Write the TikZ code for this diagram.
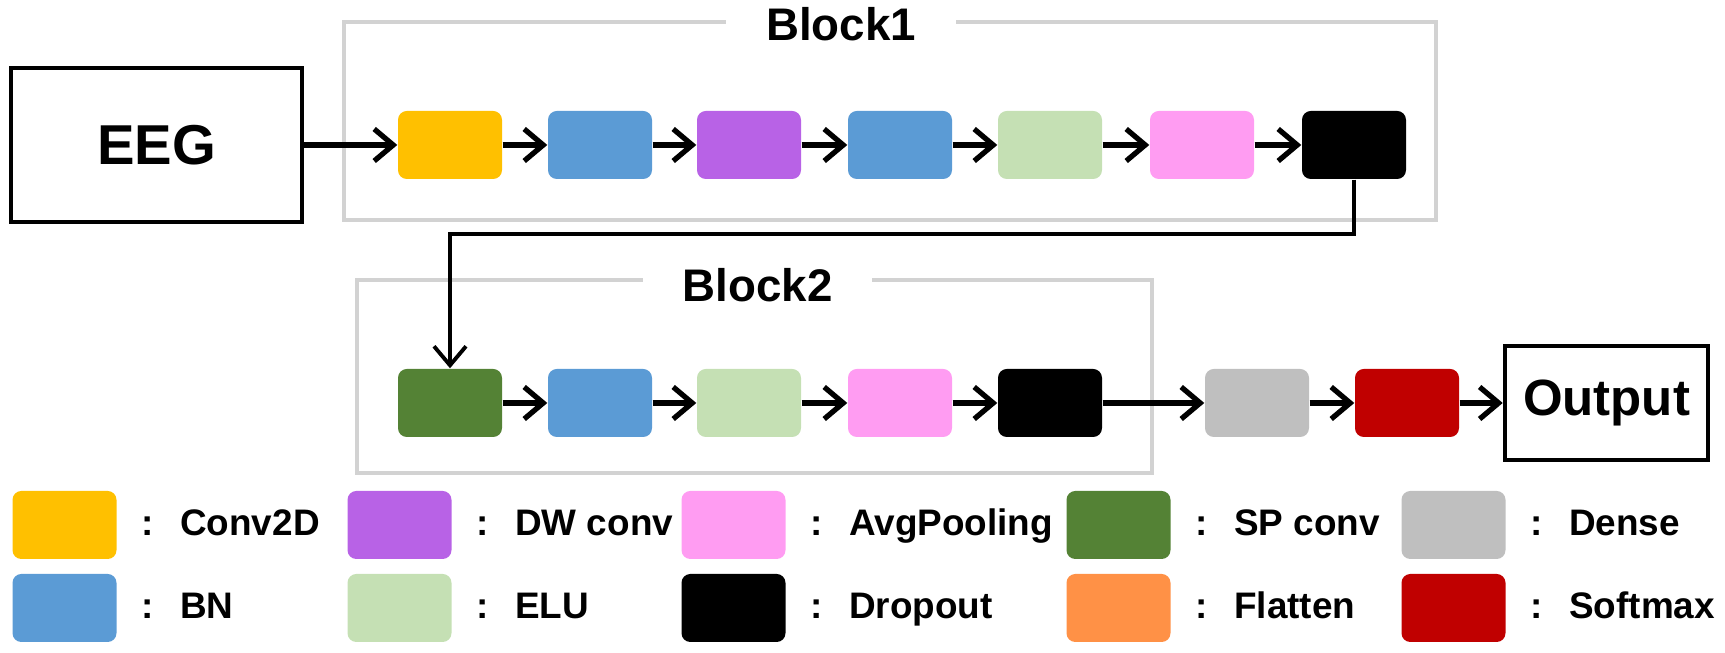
\documentclass[tikz,border=0pt]{standalone}
\usepackage{fontspec}
\setmainfont{Liberation Sans}
\usepackage{tikz}
\usetikzlibrary{arrows.meta,positioning,calc}
\definecolor{convyellow}{RGB}{255,192,0}
\definecolor{bnblue}{RGB}{91,155,213}
\definecolor{dwpurple}{RGB}{184,98,230}
\definecolor{poolpink}{RGB}{255,156,242}
\definecolor{elugreen}{RGB}{197,224,180}
\definecolor{spgreen}{RGB}{84,130,53}
\definecolor{densegray}{RGB}{191,191,191}
\definecolor{flatorange}{RGB}{255,145,70}
\definecolor{softred}{RGB}{192,0,0}
\definecolor{framegray}{RGB}{210,210,210}

\begin{document}
\begin{tikzpicture}[>={Straight Barb[length=1.9mm,width=3.2mm]},
    layer/.style={rounded corners=2.5pt, minimum width=1.04cm, minimum height=0.68cm, inner sep=0pt},
    iobox/.style={draw, line width=1.3pt, inner sep=0pt},
    blockframe/.style={draw=framegray, line width=1.2pt},
    blocktitle/.style={fill=white, inner xsep=0.4cm, inner ysep=2pt, font=\fontsize{13}{15}\selectfont\bfseries},
    flow/.style={->, line width=1.5pt},
    legtxt/.style={anchor=west, text height=1.6ex, text depth=0.5ex, font=\fontsize{10.5}{12}\selectfont\bfseries}]
    \useasboundingbox (0,0) rectangle (17.25,6.53);

    % Block frames with their titles
    \draw[blockframe] (3.44,4.33) rectangle (14.36,6.31);
    \node[blocktitle] (title1) at (8.41,6.29) {Block1};
    \draw[blockframe] (3.57,1.80) rectangle (11.52,3.73);
    \node[blocktitle] (title2) at (7.575,3.68) {Block2};

    % Input and output
    \node[iobox, minimum width=2.91cm, minimum height=1.54cm, font=\fontsize{16}{18}\selectfont\bfseries] (eeg) at (1.565,5.08) {EEG};
    \node[iobox, minimum width=2.03cm, minimum height=1.14cm, font=\fontsize{14.5}{16}\selectfont\bfseries] (out) at (16.065,2.50) {Output};

    % Block1 layers
    \node[layer, fill=convyellow] (b1conv) at (4.50,5.08) {};
    \node[layer, fill=bnblue] (b1bn) at (6.00,5.08) {};
    \node[layer, fill=dwpurple] (b1dw) at (7.49,5.08) {};
    \node[layer, fill=bnblue] (b1bnb) at (9.00,5.08) {};
    \node[layer, fill=elugreen] (b1elu) at (10.50,5.08) {};
    \node[layer, fill=poolpink] (b1pool) at (12.02,5.08) {};
    \node[layer, fill=black] (b1drop) at (13.54,5.08) {};

    % Block2 layers and head
    \node[layer, fill=spgreen] (b2sp) at (4.50,2.50) {};
    \node[layer, fill=bnblue] (b2bn) at (6.00,2.50) {};
    \node[layer, fill=elugreen] (b2elu) at (7.49,2.50) {};
    \node[layer, fill=poolpink] (b2pool) at (9.00,2.50) {};
    \node[layer, fill=black] (b2drop) at (10.50,2.50) {};
    \node[layer, fill=densegray] (dense) at (12.57,2.50) {};
    \node[layer, fill=softred] (soft) at (14.07,2.50) {};

    % Flow arrows
    \draw[flow] (eeg) -- (b1conv);
    \draw[flow] (b1conv) -- (b1bn);
    \draw[flow] (b1bn) -- (b1dw);
    \draw[flow] (b1dw) -- (b1bnb);
    \draw[flow] (b1bnb) -- (b1elu);
    \draw[flow] (b1elu) -- (b1pool);
    \draw[flow] (b1pool) -- (b1drop);
    \coordinate (bend) at (13.54,4.19);
    \draw[->, line width=1.1pt] (b1drop.south) -- (bend) -| (b2sp.north);
    \draw[flow] (b2sp) -- (b2bn);
    \draw[flow] (b2bn) -- (b2elu);
    \draw[flow] (b2elu) -- (b2pool);
    \draw[flow] (b2pool) -- (b2drop);
    \draw[flow] (b2drop) -- (dense);
    \draw[flow] (dense) -- (soft);
    \draw[flow] (soft) -- (out);

    % Legend, first row
    \node[layer, fill=convyellow] (lgconv) at (0.645,1.28) {};
    \node[legtxt] (lgconvtxt) at ([xshift=0.12cm]lgconv.east) {:\hspace{7.5pt}Conv2D};
    \node[layer, fill=dwpurple] (lgdw) at (3.995,1.28) {};
    \node[legtxt] (lgdwtxt) at ([xshift=0.12cm]lgdw.east) {:\hspace{7.5pt}DW conv};
    \node[layer, fill=poolpink] (lgpool) at (7.335,1.28) {};
    \node[legtxt] (lgpooltxt) at ([xshift=0.12cm]lgpool.east) {:\hspace{7.5pt}AvgPooling};
    \node[layer, fill=spgreen] (lgsp) at (11.185,1.28) {};
    \node[legtxt] (lgsptxt) at ([xshift=0.12cm]lgsp.east) {:\hspace{7.5pt}SP conv};
    \node[layer, fill=densegray] (lgdense) at (14.535,1.28) {};
    \node[legtxt] (lgdensetxt) at ([xshift=0.12cm]lgdense.east) {:\hspace{7.5pt}Dense};

    % Legend, second row
    \node[layer, fill=bnblue] (lgbn) at (0.645,0.45) {};
    \node[legtxt] (lgbntxt) at ([xshift=0.12cm]lgbn.east) {:\hspace{7.5pt}BN};
    \node[layer, fill=elugreen] (lgelu) at (3.995,0.45) {};
    \node[legtxt] (lgelutxt) at ([xshift=0.12cm]lgelu.east) {:\hspace{7.5pt}ELU};
    \node[layer, fill=black] (lgdrop) at (7.335,0.45) {};
    \node[legtxt] (lgdroptxt) at ([xshift=0.12cm]lgdrop.east) {:\hspace{7.5pt}Dropout};
    \node[layer, fill=flatorange] (lgflat) at (11.185,0.45) {};
    \node[legtxt] (lgflattxt) at ([xshift=0.12cm]lgflat.east) {:\hspace{7.5pt}Flatten};
    \node[layer, fill=softred] (lgsoft) at (14.535,0.45) {};
    \node[legtxt] (lgsofttxt) at ([xshift=0.12cm]lgsoft.east) {:\hspace{7.5pt}Softmax};
\end{tikzpicture}
\end{document}
